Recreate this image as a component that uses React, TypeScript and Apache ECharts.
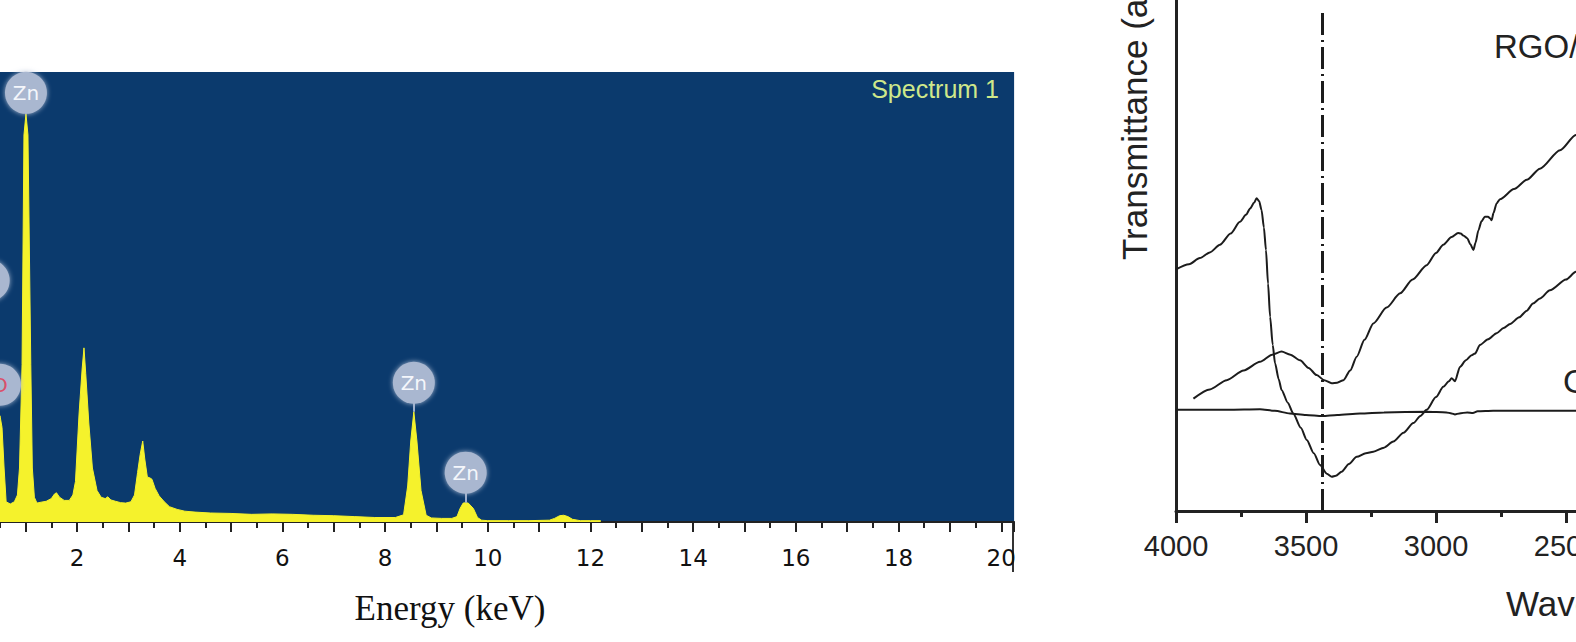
import React, { useEffect, useRef } from "react";
import * as echarts from "echarts";

// ---------- EDS spectrum (left) ----------
const edsEnergy = [
  0.10, 0.18, 0.24, 0.28, 0.33, 0.40, 0.46, 0.50, 0.54, 0.58, 0.62, 0.70, 0.78, 0.84, 0.88, 0.93,
  0.967, 1.006, 1.045, 1.10, 1.13, 1.17, 1.22, 1.30, 1.40, 1.50, 1.56, 1.60, 1.66, 1.75, 1.85, 1.92,
  1.97, 2.04, 2.10, 2.136, 2.17, 2.23, 2.30, 2.39, 2.47, 2.55, 2.60, 2.66, 2.75, 2.85, 2.95, 3.05,
  3.12, 3.18, 3.23, 3.28, 3.32, 3.37, 3.42, 3.46, 3.52, 3.60, 3.70, 3.80, 3.95, 4.10, 4.30, 4.60,
  5.00, 5.40, 5.80, 6.20, 6.60, 7.00, 7.40, 7.80, 8.20, 8.36, 8.44, 8.50, 8.56, 8.62, 8.70, 8.80,
  8.90, 9.10, 9.30, 9.40, 9.46, 9.52, 9.57, 9.62, 9.72, 9.80, 9.88, 10.0, 10.4, 10.8, 11.2, 11.30,
  11.40, 11.48, 11.56, 11.65, 11.80, 12.00, 12.20,
];
const edsCounts = [
  3, 20, 40, 47, 35, 22, 22, 23.6, 21, 12, 4.5, 4, 4.5, 6, 12, 35,
  86, 90.7, 86, 35, 12, 5.5, 4.2, 4.4, 4.6, 5.2, 6.2, 6.5, 5.5, 4.8, 4.8, 6,
  9, 24, 34, 38.7, 33, 22, 12, 7, 5.5, 5.2, 5.6, 4.9, 4.6, 4.3, 4.2, 4.5,
  6, 11, 15, 18, 14, 10, 9.8, 9.5, 7.5, 5.8, 4.5, 3.4, 2.8, 2.4, 2.2, 2.0,
  1.9, 1.7, 1.8, 1.7, 1.5, 1.4, 1.2, 1.0, 1.0, 1.6, 8, 18, 24.5, 18, 7, 1.5,
  0.9, 0.8, 0.8, 1.2, 3.0, 4.2, 4.3, 4.2, 3.0, 1.0, 0.4, 0.3, 0.3, 0.3, 0.4, 0.8,
  1.4, 1.5, 1.2, 0.6, 0.3, 0.3, 0.3,
];
const edsPeakLabels = ["C", "O", "Zn", "Zn", "Zn"];
const edsPeakEnergies = [0.28, 0.50, 1.006, 8.56, 9.57];
const edsTickValues = [2, 4, 6, 8, 10, 12, 14, 16, 18, 20];

// ---------- FTIR spectra (right) ----------
const ftirAWave = [
  4000, 3950, 3908, 3870, 3831, 3790, 3754, 3730, 3715, 3700, 3690, 3680, 3671, 3662, 3654, 3646,
  3638, 3628, 3619, 3605, 3594, 3570, 3549, 3520, 3497, 3470, 3446, 3420, 3401, 3385, 3363, 3335,
  3305, 3270, 3241, 3200, 3164, 3125, 3087, 3060, 3036, 3000, 2972, 2950, 2940, 2927, 2908, 2885,
  2863, 2850, 2831, 2800, 2767, 2740, 2715, 2680, 2651, 2627, 2600, 2562, 2500, 2462, 2400, 2300,
];
const ftirAValue = [
  47.3, 48.3, 49.5, 50.6, 52.1, 54.3, 56.6, 58.0, 59.2, 60.3, 61.2, 60.6, 58.9, 55.5, 51.1, 44.5,
  38.0, 32.5, 28.9, 25.8, 23.7, 21.2, 19.1, 16.3, 13.9, 11.3, 9.0, 7.3, 6.7, 6.9, 7.7, 9.2,
  10.6, 11.3, 11.6, 12.4, 13.6, 15.3, 17.2, 18.6, 19.8, 22.3, 24.3, 25.4, 26.0, 25.4, 28.2, 29.5,
  30.5, 30.8, 32.5, 33.6, 34.8, 35.8, 36.6, 37.9, 39.2, 40.6, 41.6, 43.2, 45.3, 46.8, 49.5, 53.5,
];
const ftirBWave = [
  3933, 3870, 3805, 3740, 3677, 3630, 3594, 3560, 3523, 3490, 3459, 3430, 3401, 3380, 3356, 3330,
  3305, 3275, 3241, 3190, 3138, 3090, 3036, 3000, 2972, 2940, 2915, 2905, 2895, 2880, 2868, 2856,
  2848, 2837, 2825, 2812, 2800, 2792, 2786, 2779, 2767, 2754, 2700, 2651, 2600, 2523, 2462, 2400,
  2300,
];
const ftirBValue = [
  22.0, 23.8, 25.6, 27.5, 29.2, 30.6, 31.2, 30.6, 29.5, 28.0, 26.6, 25.6, 25.0, 25.1, 25.6, 27.5,
  30.2, 33.5, 36.7, 39.8, 42.6, 45.3, 48.1, 50.5, 52.1, 53.6, 54.4, 54.3, 53.9, 53.4, 52.2, 51.1,
  52.5, 54.9, 56.7, 57.6, 57.6, 57.3, 56.9, 58.3, 60.2, 61.0, 63.0, 64.8, 67.0, 70.6, 73.6, 76.5,
  81.0,
];
const ftirCWave = [
  4000, 3900, 3800, 3677, 3620, 3562, 3500, 3437, 3380, 3292, 3200, 3036, 2960, 2940, 2927, 2910,
  2880, 2858, 2840, 2780, 2600, 2462, 2300,
];
const ftirCValue = [
  19.8, 19.8, 19.8, 19.9, 19.6, 19.1, 18.8, 18.6, 18.8, 19.1, 19.3, 19.4, 19.3, 19.1, 18.9, 19.1,
  19.3, 19.2, 19.5, 19.6, 19.6, 19.6, 19.6,
];
const ftirMarkerWave = 3438;
const ftirTickLabels = [4000, 3500, 3000, 2500, 2000];

const labelOffsets = [-30, -31, -21, -29, -30];

export default function App() {
  const ref = useRef<HTMLDivElement>(null);

  useEffect(() => {
    if (!ref.current) return;
    const chart = echarts.init(ref.current, undefined, { renderer: "svg" });

    const edsData = edsEnergy.map((e, i) => [e, edsCounts[i]]);
    const peakValue = (e: number) => {
      const i = edsEnergy.indexOf(e);
      return edsCounts[i];
    };

    const markPoints = edsPeakEnergies.map((e, i) => ({
      name: edsPeakLabels[i],
      coord: [e, peakValue(e)],
      symbolOffset: [0, labelOffsets[i]],
      label: { color: edsPeakLabels[i] === "O" ? "#d9506a" : "#f4f6fb" },
    }));
    const connectors = edsPeakEnergies.slice(2).map((e, k) => {
      const i = k + 2;
      const v = peakValue(e);
      return [
        { coord: [e, v] },
        { coord: [e, v + (Math.abs(labelOffsets[i]) - 17) / 4.5] },
      ];
    });

    const pair = (w: number[], v: number[]) => w.map((x, i) => [x, v[i]]);
    const lineSeries = (name: string, data: number[][], extra: any = {}) => ({
      type: "line",
      name,
      xAxisIndex: 1,
      yAxisIndex: 1,
      data,
      showSymbol: false,
      symbol: "none",
      smooth: 0.25,
      smoothMonotone: "x",
      lineStyle: { color: "#1c1c1c", width: 2 },
      clip: true,
      ...extra,
    });

    chart.setOption({
      animation: false,
      backgroundColor: "#ffffff",
      grid: [
        {
          left: -25.7,
          top: 72,
          width: 1039.8,
          height: 450,
          show: true,
          backgroundColor: "#0b3a6d",
          borderWidth: 0,
          containLabel: false,
          outerBoundsMode: "none",
        },
        {
          left: 1176,
          top: 0,
          width: 520,
          height: 511,
          show: false,
          containLabel: false,
          outerBoundsMode: "none",
        },
      ],
      xAxis: [
        {
          type: "value",
          gridIndex: 0,
          min: 0,
          max: 20.25,
          interval: 1,
          axisLine: { show: true, onZero: false, lineStyle: { color: "#222", width: 2 } },
          axisTick: { show: true, length: 10, lineStyle: { color: "#222", width: 2 } },
          minorTick: { show: true, splitNumber: 2, length: 6, lineStyle: { color: "#222", width: 2 } },
          splitLine: { show: false },
          axisLabel: {
            margin: 24,
            color: "#111",
            fontFamily: "DejaVu Sans",
            fontSize: 23,
            formatter: (v: number) => (edsTickValues.includes(v) ? String(v) : ""),
          },
        },
        {
          type: "value",
          gridIndex: 1,
          min: 2000,
          max: 4000,
          interval: 500,
          inverse: true,
          axisLine: { show: true, onZero: false, lineStyle: { color: "#222", width: 3 } },
          axisTick: { show: true, length: 12, lineStyle: { color: "#222", width: 3 } },
          minorTick: { show: true, splitNumber: 2, length: 6, lineStyle: { color: "#222", width: 3 } },
          splitLine: { show: false },
          axisLabel: {
            margin: 20,
            color: "#222",
            fontFamily: "Liberation Sans",
            fontSize: 29,
            formatter: (v: number) => (ftirTickLabels.includes(v) ? String(v) : ""),
          },
        },
      ],
      yAxis: [
        { type: "value", gridIndex: 0, min: 0, max: 100, show: false },
        {
          type: "value",
          gridIndex: 1,
          min: 0,
          max: 100,
          axisLine: { show: true, onZero: false, lineStyle: { color: "#222", width: 3 } },
          axisTick: { show: false },
          axisLabel: { show: false },
          splitLine: { show: false },
        },
      ],
      series: [
        {
          type: "line",
          name: "Spectrum 1",
          xAxisIndex: 0,
          yAxisIndex: 0,
          data: edsData,
          showSymbol: false,
          symbol: "none",
          lineStyle: { color: "#f5f22c", width: 1 },
          areaStyle: { color: "#f5f22c", opacity: 1, origin: "start" },
          clip: true,
          z: 2,
          markLine: {
            silent: true,
            symbol: ["none", "none"],
            label: { show: false },
            lineStyle: { color: "#9fb0cc", width: 2, type: "solid" },
            data: connectors,
          },
          markPoint: {
            silent: true,
            symbol: "circle",
            symbolSize: 42,
            itemStyle: {
              color: "#a9b7d0",
              shadowBlur: 5,
              shadowColor: "rgba(180,192,214,0.9)",
            },
            label: {
              show: true,
              position: "inside",
              formatter: (p: any) => p.name,
              fontFamily: "DejaVu Sans",
              fontSize: 20,
            },
            data: markPoints,
          },
        },
        lineSeries("ftirA", pair(ftirAWave, ftirAValue)),
        lineSeries("ftirB", pair(ftirBWave, ftirBValue)),
        lineSeries("ftirC", pair(ftirCWave, ftirCValue), {
          markLine: {
            silent: true,
            symbol: ["none", "none"],
            label: { show: false },
            lineStyle: { color: "#1c1c1c", width: 3, type: [22, 5, 2, 5] },
            data: [[{ coord: [ftirMarkerWave, 0] }, { coord: [ftirMarkerWave, 98] }]],
          },
        }),
      ],
      graphic: [
        {
          type: "line",
          shape: { x1: 1013, y1: 522, x2: 1013, y2: 572 },
          style: { stroke: "#333", lineWidth: 2 },
        },
        {
          type: "text",
          x: 999,
          y: 89,
          style: {
            text: "Spectrum 1",
            font: '25px "Liberation Sans"',
            fill: "#cfe88a",
            textAlign: "right",
            textVerticalAlign: "middle",
            align: "right",
            verticalAlign: "middle",
          },
        },
        {
          type: "text",
          x: 450,
          y: 608,
          style: {
            text: "Energy (keV)",
            font: '35px "Liberation Serif"',
            fill: "#111",
            textAlign: "center",
            textVerticalAlign: "middle",
            align: "center",
            verticalAlign: "middle",
          },
        },
        {
          type: "text",
          x: 1134,
          y: 260,
          rotation: Math.PI / 2,
          style: {
            text: "Transmittance (a.u.)",
            font: '35px "Liberation Sans"',
            fill: "#222",
            textAlign: "left",
            textVerticalAlign: "middle",
            align: "left",
            verticalAlign: "middle",
          },
        },
        {
          type: "text",
          x: 1506,
          y: 603,
          style: {
            text: "Wavenumber (cm⁻¹)",
            font: '35px "Liberation Sans"',
            fill: "#222",
            textAlign: "left",
            textVerticalAlign: "middle",
            align: "left",
            verticalAlign: "middle",
          },
        },
        {
          type: "text",
          x: 1494,
          y: 46,
          style: {
            text: "RGO/ZnO",
            font: '33px "Liberation Sans"',
            fill: "#222",
            textAlign: "left",
            textVerticalAlign: "middle",
            align: "left",
            verticalAlign: "middle",
          },
        },
        {
          type: "text",
          x: 1563,
          y: 381,
          style: {
            text: "GO",
            font: '33px "Liberation Sans"',
            fill: "#222",
            textAlign: "left",
            textVerticalAlign: "middle",
            align: "left",
            verticalAlign: "middle",
          },
        },
      ],
    });

    return () => chart.dispose();
  }, []);

  return (
    <div
      ref={ref}
      style={{ position: "fixed", left: 0, top: 0, width: 1576, height: 642, background: "#fff" }}
    />
  );
}
